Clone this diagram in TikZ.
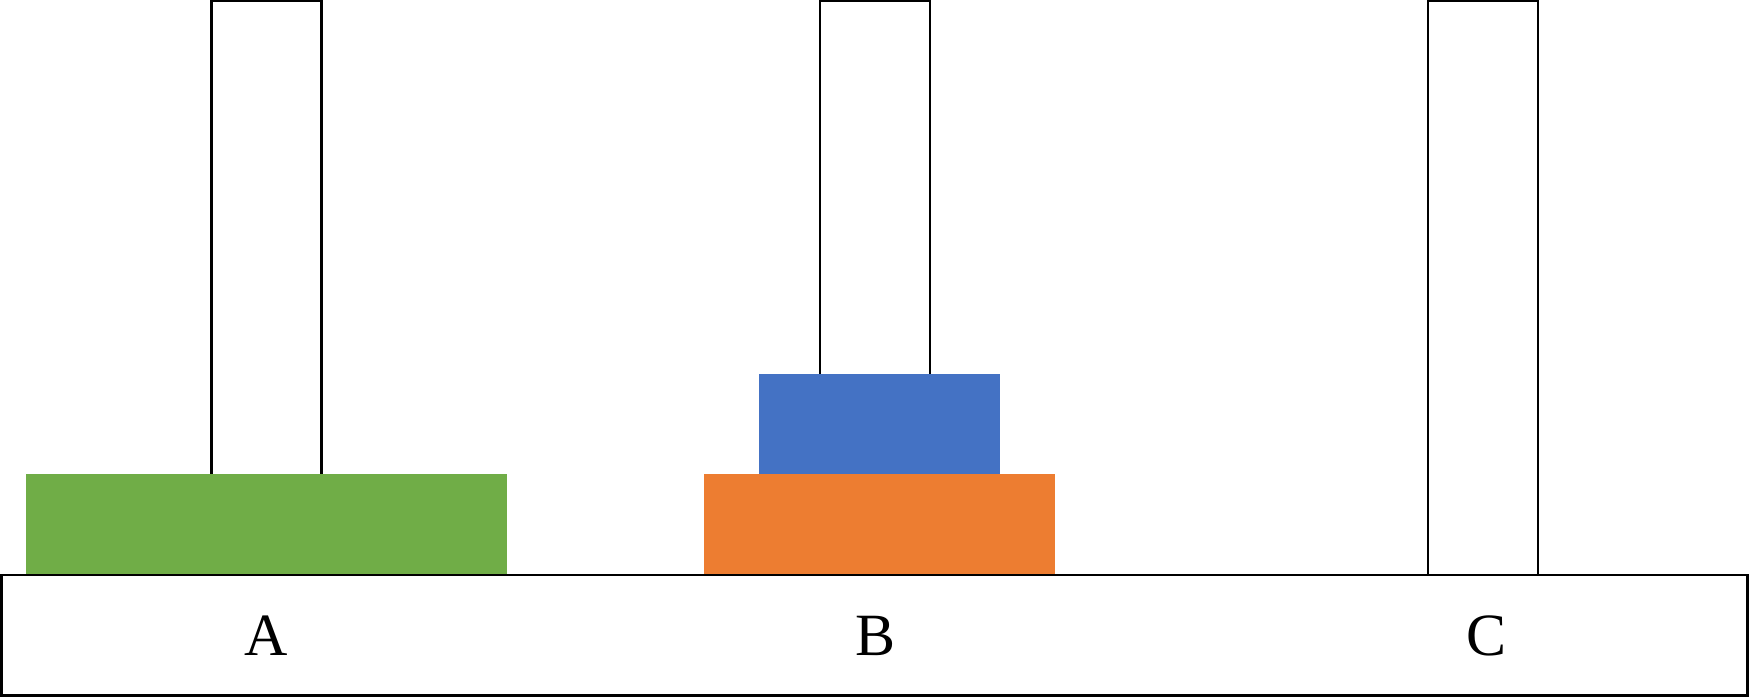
\documentclass[tikz,border=0pt]{standalone}
\usepackage{fontspec}
\setmainfont{Liberation Serif}
\definecolor{diskgreen}{HTML}{70AD47}
\definecolor{diskorange}{HTML}{ED7D31}
\definecolor{diskblue}{HTML}{4472C4}
\begin{document}
\begin{tikzpicture}[x=1pt,y=1pt,
  pole/.style={draw=black,line width=2.5pt,fill=white,rectangle,inner sep=0pt},
  disk/.style={rectangle,inner sep=0pt,draw=none},
  basebox/.style={draw=black,line width=2.5pt,fill=white,rectangle,inner sep=0pt},
  lbl/.style={inner sep=0pt,anchor=base,font=\fontsize{60}{72}\selectfont}]
\useasboundingbox (0,0) rectangle (1750,697);
% poles (image coords: y from top)
\node[pole,minimum width=110pt,minimum height=574pt] (poleA) at (266.5,{697-(1.5+575)/2}) {};
\node[pole,minimum width=110pt,minimum height=574pt] (poleB) at (875,{697-(1.5+575)/2}) {};
\node[pole,minimum width=110pt,minimum height=574pt] (poleC) at (1483,{697-(1.5+575)/2}) {};
% disks
\node[disk,fill=diskgreen,minimum width=481pt,minimum height=101pt] (green) at ({(26+507)/2},{697-(474+575)/2}) {};
\node[disk,fill=diskorange,minimum width=351pt,minimum height=101pt] (orange) at ({(704+1055)/2},{697-(474+575)/2}) {};
\node[disk,fill=diskblue,minimum width=241pt,minimum height=100pt] (blue) at ({(759+1000)/2},{697-(374+474)/2}) {};
% base
\node[basebox,minimum width=1746pt,minimum height=120.5pt] (base) at ({(1.5+1747.5)/2},{697-(575+695.5)/2}) {};
% labels
\node[lbl] (labA) at (266,41.5) {A};
\node[lbl] (labB) at (875.5,41.5) {B};
\node[lbl] (labC) at (1486.5,41.5) {C};
\end{tikzpicture}
\end{document}
